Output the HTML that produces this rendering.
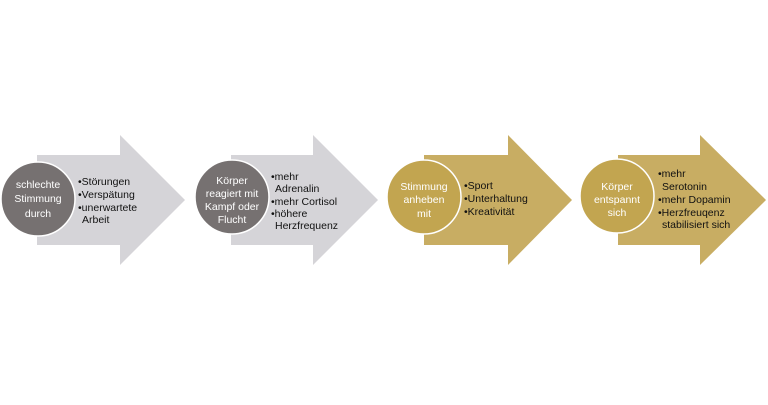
<!DOCTYPE html>
<html><head><meta charset="utf-8"><style>
body{margin:0;background:#fff;width:768px;height:400px;overflow:hidden}
svg text{font-family:"Liberation Sans",sans-serif;font-size:10.5px}
</style></head><body>
<svg width="768" height="400" viewBox="0 0 768 400">
<g fill="#d5d4d8">
<polygon points="37,155 120,155 120,135 185,200 120,265 120,245 37,245"/>
<polygon points="231,155 313,155 313,135 378,200 313,265 313,245 231,245"/>
</g>
<g fill="#c8ad63">
<polygon points="424,155 508,155 508,135 572,200 508,265 508,245 424,245"/>
<polygon points="618,155 700,155 700,135 766,200 700,265 700,245 618,245"/>
</g>
<g stroke="#fff" stroke-width="1.5">
<circle cx="38" cy="199" r="37" fill="#767171"/>
<circle cx="232" cy="197" r="37" fill="#767171"/>
<circle cx="424" cy="197" r="37" fill="#c2a550"/>
<circle cx="617" cy="196" r="37" fill="#c2a550"/>
</g>
<g fill="#fff" text-anchor="middle">
<text x="38" y="188">schlechte</text><text x="38" y="202">Stimmung</text><text x="38" y="217">durch</text>
<text x="232" y="184">Körper</text><text x="232" y="197">reagiert mit</text><text x="232" y="210">Kampf oder</text><text x="232" y="223">Flucht</text>
<text x="424" y="190">Stimmung</text><text x="424" y="203">anheben</text><text x="424" y="217">mit</text>
<text x="617" y="190">Körper</text><text x="617" y="203">entspannt</text><text x="617" y="216">sich</text>
</g>
<g fill="#111">
<text x="78" y="185">•Störungen</text><text x="78" y="198">•Verspätung</text><text x="78" y="211">•unerwartete</text><text x="82" y="223">Arbeit</text>
<text x="271" y="180">•mehr</text><text x="275" y="192">Adrenalin</text><text x="271" y="205">•mehr Cortisol</text><text x="271" y="217">•höhere</text><text x="275" y="229">Herzfrequenz</text>
<text x="464" y="189">•Sport</text><text x="464" y="202">•Unterhaltung</text><text x="464" y="215">•Kreativität</text>
<text x="658" y="177">•mehr</text><text x="662" y="190">Serotonin</text><text x="658" y="203">•mehr Dopamin</text><text x="658" y="216">•Herzfreuqenz</text><text x="662" y="228">stabilisiert sich</text>
</g>
</svg>
</body></html>
